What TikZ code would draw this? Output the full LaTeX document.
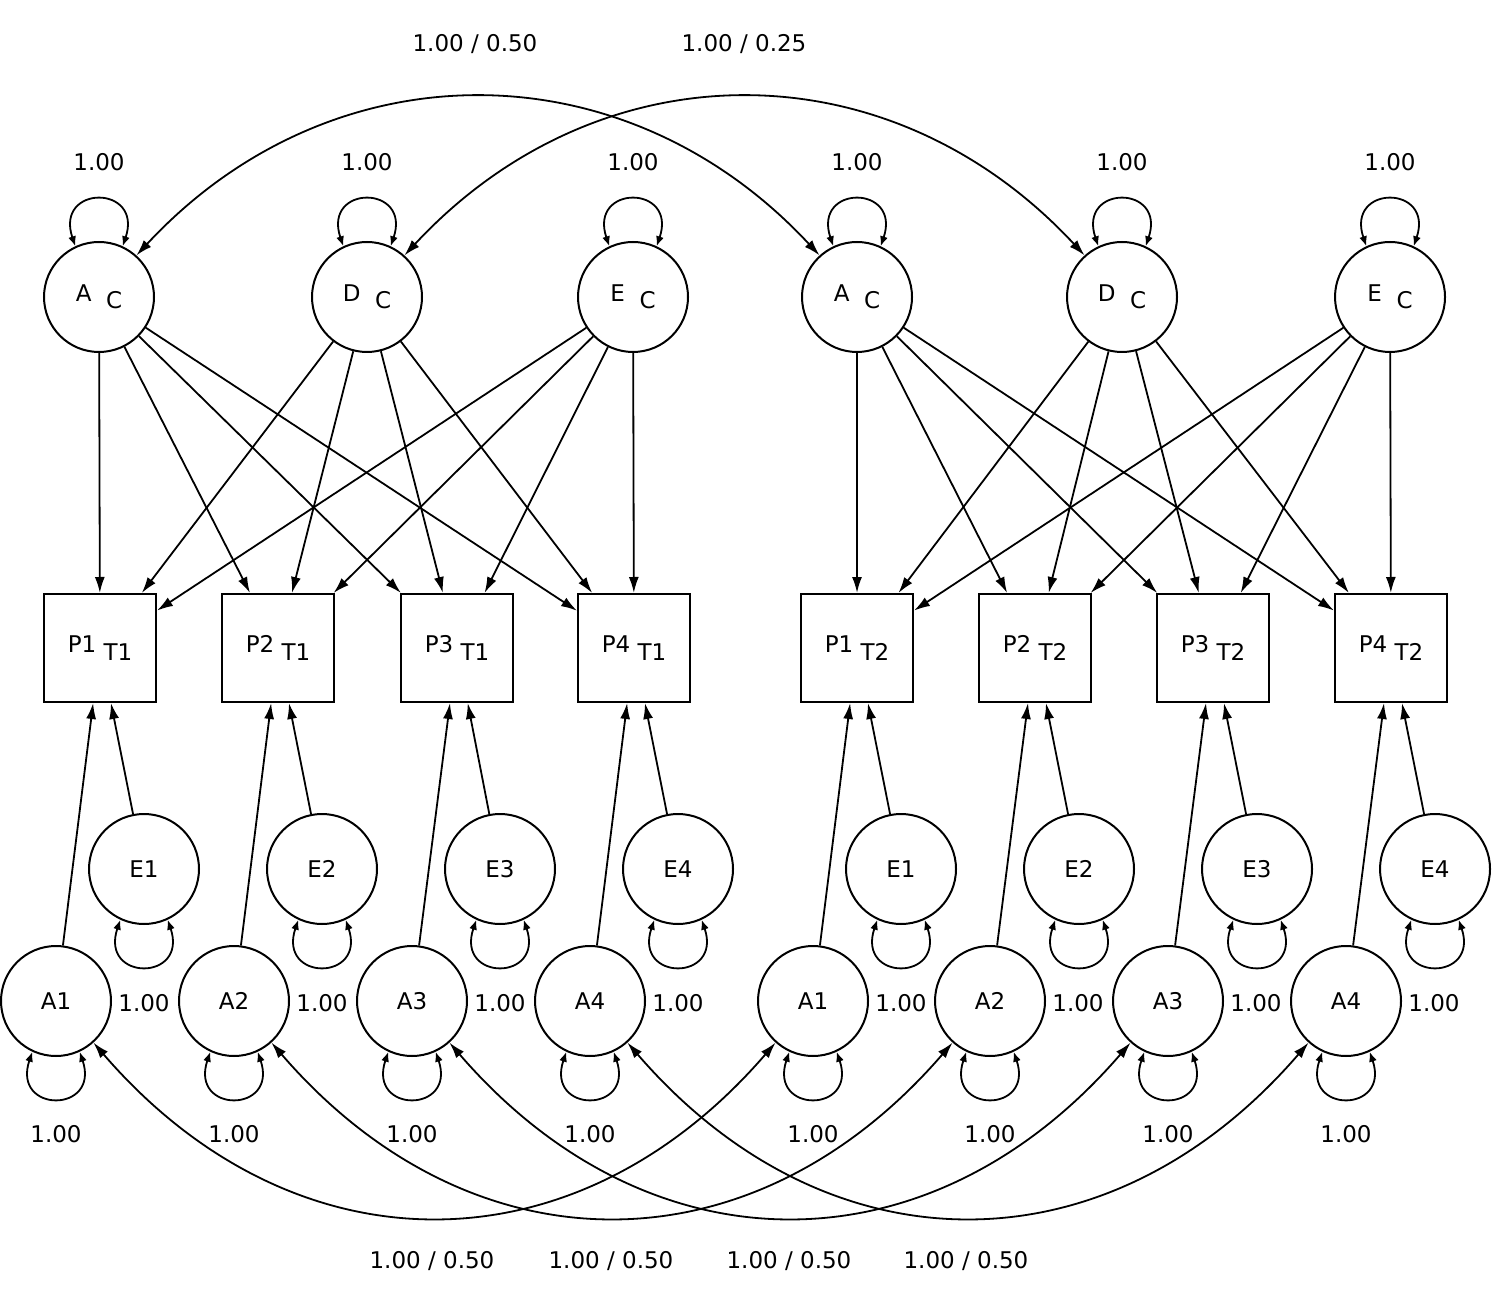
\documentclass[tikz,border=0pt]{standalone}
\usepackage{fontspec}
\setmainfont{DejaVu Sans}
\usetikzlibrary{arrows.meta}
\begin{document}
\begin{tikzpicture}[x=0.5pt,y=-0.5pt,
  every node/.style={font=\fontsize{11.5}{13}\selectfont},
  lat/.style={draw,circle,line width=1pt,minimum size=55pt,inner sep=0pt},
  obs/.style={draw,rectangle,line width=1pt,minimum width=56pt,minimum height=54pt,inner sep=0pt},
  arr/.style={line width=0.9pt,-{Latex[length=8pt,width=5pt]}},
  dbl/.style={line width=0.9pt,{Latex[length=8pt,width=5pt]}-{Latex[length=8pt,width=5pt]}},
  lp/.style={line width=0.9pt,{Latex[length=5pt,width=4pt]}-{Latex[length=5pt,width=4pt]}},
  lab/.style={inner sep=0pt}]
\useasboundingbox (0,0) rectangle (1502,1293);
% top latent
\foreach \n/\l/\x in {AC1/A/99,DC1/D/367,EC1/E/633,AC2/A/857,DC2/D/1122,EC2/E/1390}{
  \node[lat] (\n) at (\x,297) {\l~~\raisebox{-.6ex}{C}};
  \draw[lp] (\n.115) .. controls +(-21,-62) and +(21,-62) .. (\n.65);
  \node[lab] (l\n) at (\x,162) {1.00};
}
% boxes
\foreach \i/\x in {1/100,2/278,3/457,4/634}{
  \node[obs] (P\i T1) at (\x,648) {P\i~\raisebox{-.6ex}{T1}};
}
\foreach \i/\x in {1/857,2/1035,3/1213,4/1391}{
  \node[obs] (P\i T2) at (\x,648) {P\i~\raisebox{-.6ex}{T2}};
}
% E and A circles
\foreach \i/\xe/\xa in {1/144/56,2/322/234,3/500/412,4/678/590}{
  \node[lat] (E\i T1) at (\xe,869) {E\i};
  \node[lat] (A\i T1) at (\xa,1001) {A\i};
  \draw[lp] (E\i T1.-115) .. controls +(-21,62) and +(21,62) .. (E\i T1.-65);
  \draw[lp] (A\i T1.-115) .. controls +(-21,62) and +(21,62) .. (A\i T1.-65);
  \node[lab] (le\i T1) at (\xa+88,1003) {1.00};
  \node[lab] (la\i T1) at (\xa,1134) {1.00};
  \draw[arr] (A\i T1) -- (P\i T1);
  \draw[arr] (E\i T1) -- (P\i T1);
  \foreach \c in {AC1,DC1,EC1}{\draw[arr] (\c) -- (P\i T1);}
}
\foreach \i/\xe/\xa in {1/901/813,2/1079/990,3/1257/1168,4/1435/1346}{
  \node[lat] (E\i T2) at (\xe,869) {E\i};
  \node[lat] (A\i T2) at (\xa,1001) {A\i};
  \draw[lp] (E\i T2.-115) .. controls +(-21,62) and +(21,62) .. (E\i T2.-65);
  \draw[lp] (A\i T2.-115) .. controls +(-21,62) and +(21,62) .. (A\i T2.-65);
  \node[lab] (le\i T2) at (\xa+88,1003) {1.00};
  \node[lab] (la\i T2) at (\xa,1134) {1.00};
  \draw[arr] (A\i T2) -- (P\i T2);
  \draw[arr] (E\i T2) -- (P\i T2);
  \foreach \c in {AC2,DC2,EC2}{\draw[arr] (\c) -- (P\i T2);}
}
% top arcs
\draw[dbl] (AC1.48) .. controls +(195,-210) and +(-195,-210) .. (AC2.132);
\draw[dbl] (DC1.48) .. controls +(195,-210) and +(-195,-210) .. (DC2.132);
\node[lab] (t1) at (475,44) {1.00 / 0.50};
\node[lab] (t2) at (744,44) {1.00 / 0.25};
% bottom arcs
\foreach \i/\x in {1/432,2/611,3/789,4/966}{
  \draw[dbl] (A\i T1.-48) .. controls +(200,232) and +(-200,232) .. (A\i T2.-132);
  \node[lab] (b\i) at (\x,1261) {1.00 / 0.50};
}
\end{tikzpicture}
\end{document}
